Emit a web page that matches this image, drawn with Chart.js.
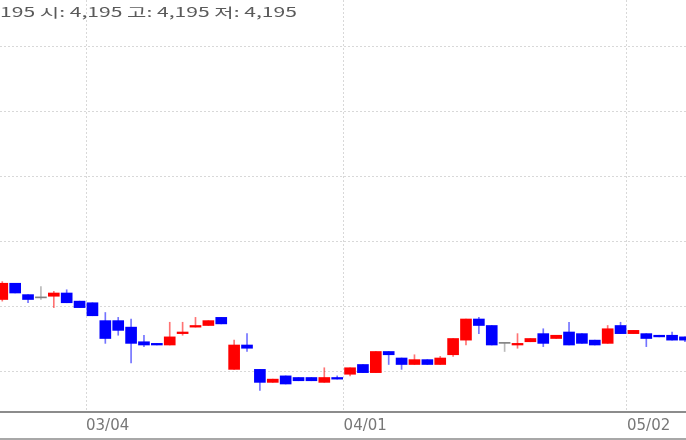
<!DOCTYPE html>
<html>
<head>
<meta charset="utf-8">
<script src="https://cdn.jsdelivr.net/npm/chart.js@4.4.1/dist/chart.umd.min.js"></script>
<style>
  html, body { margin: 0; padding: 0; background: #fff; }
  #wrap { width: 686px; height: 440px; }
</style>
</head>
<body>
<div id="wrap"><canvas id="myChart"></canvas></div>
<script>
// 일봉 시가/고가/저가/종가
const opens  = [4320,4370,4335,4325,4330,4340,4315,4310,4255,4255,4235,4190,4185,4180,4215,4235,4240,4265,4105,4180,4105,4065,4085,4080,4080,4065,4080,4090,4120,4095,4160,4140,4120,4135,4120,4150,4195,4260,4240,4185,4180,4190,4215,4200,4220,4215,4195,4185,4240,4215,4215,4210,4210,4205];
const highs  = [4375,4370,4335,4360,4345,4350,4315,4310,4280,4265,4260,4210,4185,4250,4250,4265,4255,4265,4195,4215,4105,4075,4085,4080,4080,4110,4085,4110,4120,4160,4160,4140,4150,4135,4145,4200,4260,4265,4240,4185,4215,4200,4230,4210,4250,4215,4195,4240,4250,4225,4215,4210,4220,4205];
const lows   = [4315,4340,4310,4320,4295,4310,4295,4270,4185,4210,4125,4175,4180,4180,4210,4235,4240,4245,4105,4160,4040,4065,4060,4070,4070,4065,4075,4085,4095,4095,4120,4105,4120,4120,4120,4145,4180,4215,4180,4160,4170,4190,4175,4200,4180,4185,4180,4185,4215,4215,4175,4205,4195,4190];
const closes = [4370,4340,4320,4325,4340,4310,4295,4270,4200,4225,4185,4180,4180,4205,4220,4240,4255,4245,4180,4170,4065,4075,4060,4070,4070,4080,4075,4110,4095,4160,4150,4120,4135,4120,4140,4200,4260,4240,4180,4185,4185,4200,4185,4210,4180,4185,4180,4230,4215,4225,4200,4205,4195,4195];

// 날짜 눈금 (해당 캔들 번호와 라벨)
const tickIdx    = [7, 27, 49];
const tickLabels = ["03/04", "04/01", "05/02"];
// 가격 격자선
const priceGrid  = [4100, 4300, 4500, 4700, 4900, 5100];

const infoText = "종: 4,195 시: 4,195 고: 4,195 저: 4,195";

const ctx = document.getElementById("myChart");

function candleColor(i, a) {
  if (closes[i] > opens[i]) return `rgba(255,0,0,${a})`;
  if (closes[i] < opens[i]) return `rgba(0,0,255,${a})`;
  return `rgba(130,130,130,${a})`;
}

const bodies = opens.map((o, i) => ({ x: i, y: [o, closes[i]] }));
const wicks = lows.map((l, i) => ({ x: i, y: [l, highs[i]] }));

// 상단 정보 글자와 아래 테두리
const extras = {
  id: "extras",
  afterDraw(chart) {
    const c = chart.ctx;
    c.save();
    c.font = "13px 'Noto Sans CJK KR'";
    c.fillStyle = "#5a5a5a";
    c.textBaseline = "middle";
    c.scale(1.62, 1);
    const cut = c.measureText("종: 4,").width;
    c.fillText(infoText, -cut, 12);
    c.restore();
    c.save();
    c.strokeStyle = "#a8a8a8";
    c.lineWidth = 2;
    c.beginPath();
    c.moveTo(0, 439);
    c.lineTo(chart.width, 439);
    c.stroke();
    c.restore();
  }
};

new Chart(ctx, {
  type: "bar",
  data: {
    datasets: [
      {
        data: bodies,
        backgroundColor: (c) => candleColor(c.dataIndex, 1),
        barThickness: 11,
        minBarLength: 1,
        grouped: false
      },
      {
        data: wicks,
        backgroundColor: (c) => candleColor(c.dataIndex, 0.55),
        barThickness: 1,
        minBarLength: 1,
        grouped: false
      }
    ]
  },
  options: {
    responsive: true,
    maintainAspectRatio: false,
    animation: false,
    layout: { padding: 0 },
    plugins: { legend: { display: false }, tooltip: { enabled: false } },
    scales: {
      x: {
        type: "linear",
        offset: false,
        min: -0.177,
        max: 53.081,
        afterBuildTicks: (s) => { s.ticks = tickIdx.map((v) => ({ value: v - 0.5 })); },
        afterFit: (s) => { s.height = 28; },
        ticks: {
          align: "start",
          padding: 5,
          color: "#777",
          font: { family: "DejaVu Sans", size: 15 },
          callback: (v) => tickLabels[tickIdx.indexOf(v + 0.5)]
        },
        grid: {
          offset: false,
          color: "#d8d8d8",
          drawTicks: false
        },
        border: { color: "#8c8c8c", width: 2, dash: [2, 2] }
      },
      y: {
        min: 3973.85,
        max: 5241.54,
        afterBuildTicks: (s) => { s.ticks = priceGrid.map((v) => ({ value: v })); },
        afterFit: (s) => { s.width = 0; },
        ticks: { display: false },
        grid: { color: "#d8d8d8", drawTicks: false },
        border: { display: false, dash: [2, 2] }
      }
    }
  },
  plugins: [extras]
});
</script>
</body>
</html>
